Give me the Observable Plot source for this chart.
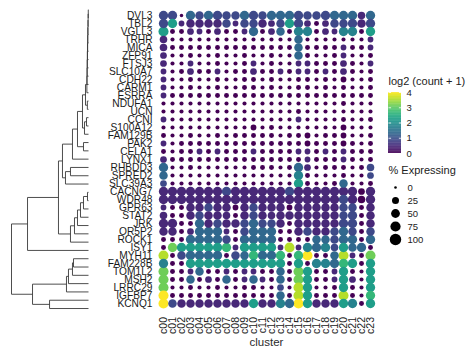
<!DOCTYPE html>
<html><head><meta charset="utf-8">
<script src="https://cdn.jsdelivr.net/npm/d3@7"></script>
<script src="https://cdn.jsdelivr.net/npm/@observablehq/plot@0.6"></script>
<style>
body{margin:0;background:#fff;}
#chart{position:relative;width:474px;height:355px;overflow:hidden;background:#fff;}
#chart svg{position:absolute;left:0;top:0;}
</style></head><body><div id="chart"></div>
<script>
const genes = ["DVL3","TBL2","VGLL3","TRHR","MICA","ZFP91","FTSJ3","SLC10A7","CDH22","CARM1","ESRRA","NDUFA1","UCN","CCNI","S100A12","FAM129B","PAK2","CELA1","LYNX1","RHBDD3","SPRED2","SLC39A3","CACNG7","WDR48","GPR63","STAT2","JRK","OR5P2","ROCK1","ISY1","MYH11","FAM228B","TOM1L2","MSH2","LRRC29","IGFBP7","KCNQ1"];
const clusters = ["c00","c01","c02","c03","c04","c05","c06","c07","c08","c09","c10","c11","c12","c13","c14","c15","c16","c17","c18","c19","c20","c21","c22","c23"];

// % expressing, one code per cluster (decoded with pctLevels)
const pctLevels = [0, 1, 3, 7, 13, 22, 32, 45, 58, 72];
const pctCodes = [
 "881878877887888877888868","884777774777578853577878","933543533483573883548838",
 "622222222222222722222224","633333333333333733334334","522322322322322732234223",
 "522422322342322443335324","423533423353343443435323","422322322332322332324223",
 "422322322332322332323223","433333333333333333333333","222222222222222222223222",
 "222222222222222322222222","422222222222222422223223","222222222242322222224222",
 "322322323333323342334223","423333333333333343334323","323343433343333443434333",
 "533333333333333343334323","822322222233323852333236","722222222222222832223225",
 "522222222222222832237223","888888888888888888888858","888888888888888888888868",
 "433777774777774777777737","633777763777677777777837","883387777787773777778837",
 "773588843788833777778737","333888873888833337778838","388888884888849488868783",
 "937888837788883893379439","833888888888883838888838","933473343443373983348328",
 "933735373474373983348528","922322322332252982238328","933333333333373983339328",
 "977777777787788987778838"];

// log2(count + 1), one code per cluster (decoded with exprLevels)
const exprLevels = [0, 0.44, 0.89, 1.33, 1.78, 2.22, 2.67, 3.11, 3.56, 4];
const exprCodes = [
 "220323222322333222233313","251111121221125210122212","500110100130130440114405",
 "100000000000000300000001","100000000000000300001001","100000000000000300001000",
 "100100000010000110001001","100100100010010110101000","100000000000000000000000",
 "100000000000000000000000","100000000000000000000000","000000000000000000000000",
 "000000000000000000000000","100000000000000100000000","000000000000000000000000",
 "000000000000000000000000","100000000000000000000000","000010100010000110101000",
 "100000000000000010001000","300000000000000310000002","300000000000000400000002",
 "200000000000000500003000","111111121111112111111101","111111111111111111112101",
 "100112110121110111112201","100121110121111111112201","110031211232210111112201",
 "110133310233300121123202","000333320333300003323303","075555561555518143425330",
 "802333302363360690038107","400555555555550504436505","700130010110030750015005",
 "700301030131030750015105","700000000000020850005005","900000000000030850008006",
 "921111111151143951115405"];

// dendrogram merges: [child, child, height]; "nK" = result of merge K
const merges = [
 ["DVL3","TBL2",0.003],["n0","VGLL3",0.005],["n1","TRHR",0.007],["n2","MICA",0.009],
 ["n3","ZFP91",0.011],["n4","FTSJ3",0.013],["n5","SLC10A7",0.015],["n6","CDH22",0.017],
 ["n7","CARM1",0.019],["n8","ESRRA",0.021],["NDUFA1","UCN",0.015],["n9","n10",0.039],
 ["CCNI","S100A12",0.026],["n12","FAM129B",0.052],["n11","n13",0.078],["PAK2","CELA1",0.065],
 ["n14","n15",0.143],["n16","LYNX1",0.208],["RHBDD3","SPRED2",0.234],["n18","SLC39A3",0.299],
 ["n17","n19",0.338],["CACNG7","WDR48",0.013],["n21","GPR63",0.065],["n22","STAT2",0.104],
 ["n23","JRK",0.143],["n24","OR5P2",0.182],["n25","ROCK1",0.234],["n20","n26",0.39],
 ["n27","ISY1",0.792],["MYH11","FAM228B",0.195],["n29","TOM1L2",0.208],["n30","MSH2",0.26],
 ["n31","LRRC29",0.286],["IGFBP7","KCNQ1",0.506],["n32","n33",0.727],["n28","n34",1.0]];

const colorBreaks = [0, 1, 2, 3, 4];
const sizeBreaks = [0, 25, 50, 75, 100];
const colorTitle = "log2 (count + 1)";
const sizeTitle = "% Expressing";
const xTitle = "cluster";

const cells = genes.flatMap((g, gi) => clusters.map((c, ci) => ({
  gene: g, cluster: c,
  pct: pctLevels[+pctCodes[gi][ci]],
  expr: exprLevels[+exprCodes[gi][ci]]
})));

const nodes = {};
genes.forEach((g, i) => nodes[g] = {h: 0, y: i});
const segs = [];
merges.forEach(([a, b, h], k) => {
  const A = nodes[a], B = nodes[b];
  segs.push({x1: h, y1: A.y, x2: h, y2: B.y});
  segs.push({x1: h, y1: A.y, x2: A.h, y2: A.y});
  segs.push({x1: h, y1: B.y, x2: B.h, y2: B.y});
  nodes["n" + k] = {h, y: (A.y + B.y) / 2};
});

const font = "'Liberation Sans', Arial, Helvetica, sans-serif";
const W = 474, H = 355, MT = 4.3, MB = 42;
const rScale = {type: "pow", exponent: 0.5, domain: [0, 100], range: [1.3, 5.7]};
const cScale = {type: "linear", scheme: "viridis", domain: [0, 4]};

const main = Plot.plot({
  width: W, height: H, marginLeft: 155.5, marginRight: 97.5, marginTop: MT, marginBottom: MB,
  style: {fontFamily: font, fontSize: "10px", color: "#2b2b2b", background: "white"},
  x: {type: "point", domain: clusters, padding: 0.6},
  y: {type: "point", domain: genes, padding: 0.6},
  r: rScale, color: cScale,
  marks: [
    Plot.axisY({tickSize: 0, tickPadding: 3.5, label: null, fontSize: 10.2, fill: "#1a1a1a"}),
    Plot.axisX({tickSize: 0, tickPadding: 3.5, tickRotate: -90, label: null, fontSize: 10.5, fill: "#1a1a1a"}),
    Plot.dot(cells, {x: "cluster", y: "gene", r: "pct", fill: "expr"}),
    Plot.text([xTitle], {text: d => d, frameAnchor: "bottom", dy: 32, fontSize: 11.5})
  ]
});

const dendro = Plot.plot({
  width: W, height: H, marginTop: MT, marginBottom: MB, marginLeft: 11, marginRight: W - 88,
  style: {background: "transparent"},
  x: {domain: [1, 0], axis: null},
  y: {domain: [-0.6, genes.length - 0.4], reverse: true, axis: null},
  marks: [Plot.link(segs, {x1: "x1", y1: "y1", x2: "x2", y2: "y2", stroke: "#3a3a3a", strokeWidth: 0.9})]
});

const ramp = d3.range(0, 4, 0.04);
const legC = Plot.plot({
  width: W, height: H,
  style: {fontFamily: font, fontSize: "11px", color: "#222", background: "transparent"},
  x: {domain: [0, 1], range: [388, 401], axis: null},
  y: {domain: [0, 4], range: [153, 92], axis: null},
  color: cScale,
  marks: [
    Plot.rect(ramp, {x1: 0, x2: 1, y1: d => d, y2: d => Math.min(4, d + 0.055), fill: d => d + 0.02}),
    Plot.link(colorBreaks, {x1: 0, x2: 0.2, y1: d => d, y2: d => d, stroke: "white", strokeWidth: 0.8}),
    Plot.link(colorBreaks, {x1: 0.8, x2: 1, y1: d => d, y2: d => d, stroke: "white", strokeWidth: 0.8}),
    Plot.text(colorBreaks, {x: 1, y: d => d, dx: 5, text: d => String(d), textAnchor: "start", fontSize: 9.5}),
    Plot.text([colorTitle], {x: 0, y: 4, dy: -11.5, text: d => d, textAnchor: "start", fontSize: 11})
  ]
});

const legS = Plot.plot({
  width: W, height: H,
  style: {fontFamily: font, fontSize: "11px", color: "#222", background: "transparent"},
  x: {domain: [0, 1], range: [395, 407], axis: null},
  y: {type: "point", domain: sizeBreaks.map(String), range: [187.3, 239.3], padding: 0, axis: null},
  r: rScale,
  marks: [
    Plot.dot(sizeBreaks, {x: 0, y: d => String(d), r: d => d, fill: "black"}),
    Plot.text(sizeBreaks, {x: 1, y: d => String(d), text: d => String(d), textAnchor: "start", fontSize: 9.5}),
    Plot.text([sizeTitle], {x: 0, y: () => "0", dx: -7, dy: -17, text: d => d, textAnchor: "start", fontSize: 11})
  ]
});

const el = document.getElementById("chart");
el.append(main, dendro, legC, legS);
</script>
</body></html>
